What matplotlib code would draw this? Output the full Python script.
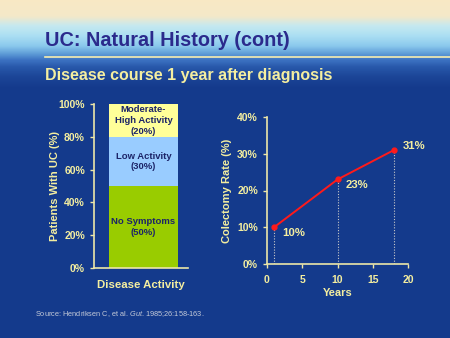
import numpy as np
import matplotlib
matplotlib.use("Agg")
import matplotlib.pyplot as plt
from matplotlib.colors import LinearSegmentedColormap

plt.rcParams['font.family'] = ['Liberation Sans', 'DejaVu Sans']
plt.rcParams['mathtext.fontset'] = 'custom'
plt.rcParams['mathtext.rm'] = 'Liberation Sans'
plt.rcParams['mathtext.it'] = 'Liberation Sans:italic'

# ---- data ----
activity_labels = ["No Symptoms", "Low Activity", "Moderate-\nHigh Activity"]
activity_pct = [50, 30, 20]
activity_colors = ["#99cc00", "#99ccff", "#ffff99"]

years = [1, 10, 18]
colectomy_pct = [10, 23, 31]

left_yticks = [0, 20, 40, 60, 80, 100]
right_yticks = [0, 10, 20, 30, 40]
right_xticks = [0, 5, 10, 15, 20]

W, H = 450, 338
BG = "#143a8c"
AX = "#ece6a8"
TXT = "#f4eea0"

fig = plt.figure(figsize=(W / 100, H / 100), dpi=100)
fig.patch.set_facecolor(BG)


def px(x0, y0, x1, y1):
    """Axes rectangle from pixel box (top-left origin)."""
    return [x0 / W, 1 - y1 / H, (x1 - x0) / W, (y1 - y0) / H]


# ---- header gradient, drawn as 1-px horizontal bands ----
HDR = 88
bg = fig.add_axes([0, 0, 1, 1])
bg.set_xlim(0, W)
bg.set_ylim(H, 0)
bg.set_facecolor(BG)
bg.axis("off")
stops_px = [(0, "#f8e8c4"), (16, "#f4e8c8"), (26, "#c4e8f0"), (36, "#aadef2"),
            (46, "#8ac8ec"), (54, "#5c9ad6"), (60, "#3c72c2"), (67, "#2858aa"),
            (76, "#1c4698"), (HDR, BG)]
cmap = LinearSegmentedColormap.from_list("hdr", [(p / HDR, c) for p, c in stops_px])
for row in range(HDR):
    bg.axhspan(row, row + 1, color=cmap((row + 0.5) / HDR), lw=0, zorder=0)
bg.plot([45, W], [57, 57], color="#f8eeb0", lw=1.2, zorder=2)
bg.text(45, 46, "UC: Natural History (cont)", fontsize=14.3, fontweight="bold",
        color="#2b2a8c", va="baseline", ha="left", zorder=3)
bg.text(45, 80, "Disease course 1 year after diagnosis", fontsize=11.5,
        fontweight="bold", color=TXT, va="baseline", ha="left", zorder=3)
bg.text(35, 316, r"Source: Hendriksen C, et al. $\it{Gut}$. 1985;26:158-163.",
        fontsize=5.3, color="#c4cad8", va="baseline", ha="left")


def style_axes(ax):
    ax.set_facecolor("none")
    for s in ("top", "right"):
        ax.spines[s].set_visible(False)
    for s in ("left", "bottom"):
        ax.spines[s].set_color(AX)
        ax.spines[s].set_linewidth(1.2)
    ax.tick_params(colors=AX, labelcolor=TXT, labelsize=7.5, width=1, length=3)
    for lab in ax.get_xticklabels() + ax.get_yticklabels():
        lab.set_fontweight("bold")


# ---- left: stacked bar ----
ax1 = fig.add_axes(px(94, 104, 188, 268))
bottom = 0
for lab, val, col in zip(activity_labels, activity_pct, activity_colors):
    ax1.bar(0, val, bottom=bottom, width=0.7, color=col, edgecolor="none")
    ax1.text(0, bottom + val / 2, f"{lab}\n({val}%)", ha="center", va="center",
             fontsize=6.8, fontweight="bold", color="#1c2468", linespacing=1.25)
    bottom += val
ax1.set_xlim(-0.502, 0.451)
ax1.set_ylim(0, 100)
ax1.set_yticks(left_yticks)
ax1.set_yticklabels([f"{v}%" for v in left_yticks])
ax1.set_xticks([])
style_axes(ax1)
ax1.set_xlabel("Disease Activity", fontsize=8.2, fontweight="bold", color=TXT,
               labelpad=9)
ax1.set_ylabel("Patients With UC (%)", fontsize=8, fontweight="bold",
               color=TXT, labelpad=-1)

# ---- right: colectomy line ----
ax2 = fig.add_axes(px(267, 117, 408, 264))
ax2.set_xlim(0, 20)
ax2.set_ylim(0, 40)
for x, y in zip(years, colectomy_pct):
    ax2.plot([x, x], [0, y], color="#c8c8c8", lw=0.8, ls=(0, (1, 1.5)))
ax2.plot(years, colectomy_pct, color="#ff1a1a", lw=1.4, marker="o",
         markersize=3.5, zorder=3)
offsets = [(2.8, -1.6), (2.8, -1.6), (2.9, 1.0)]
for (x, y), (dx, dy) in zip(zip(years, colectomy_pct), offsets):
    ax2.text(x + dx, y + dy, f"{y}%", fontsize=8.2, fontweight="bold",
             color=TXT, ha="center", va="center")
ax2.set_yticks(right_yticks)
ax2.set_yticklabels([f"{v}%" for v in right_yticks])
ax2.set_xticks(right_xticks)
style_axes(ax2)
ax2.tick_params(axis="x", pad=5)
ax2.set_xlabel("Years", fontsize=8, fontweight="bold", color=TXT, labelpad=2)
ax2.set_ylabel("Colectomy Rate (%)", fontsize=8, fontweight="bold",
               color=TXT, labelpad=4)

fig.savefig("out.png", dpi=100, facecolor=fig.get_facecolor())
